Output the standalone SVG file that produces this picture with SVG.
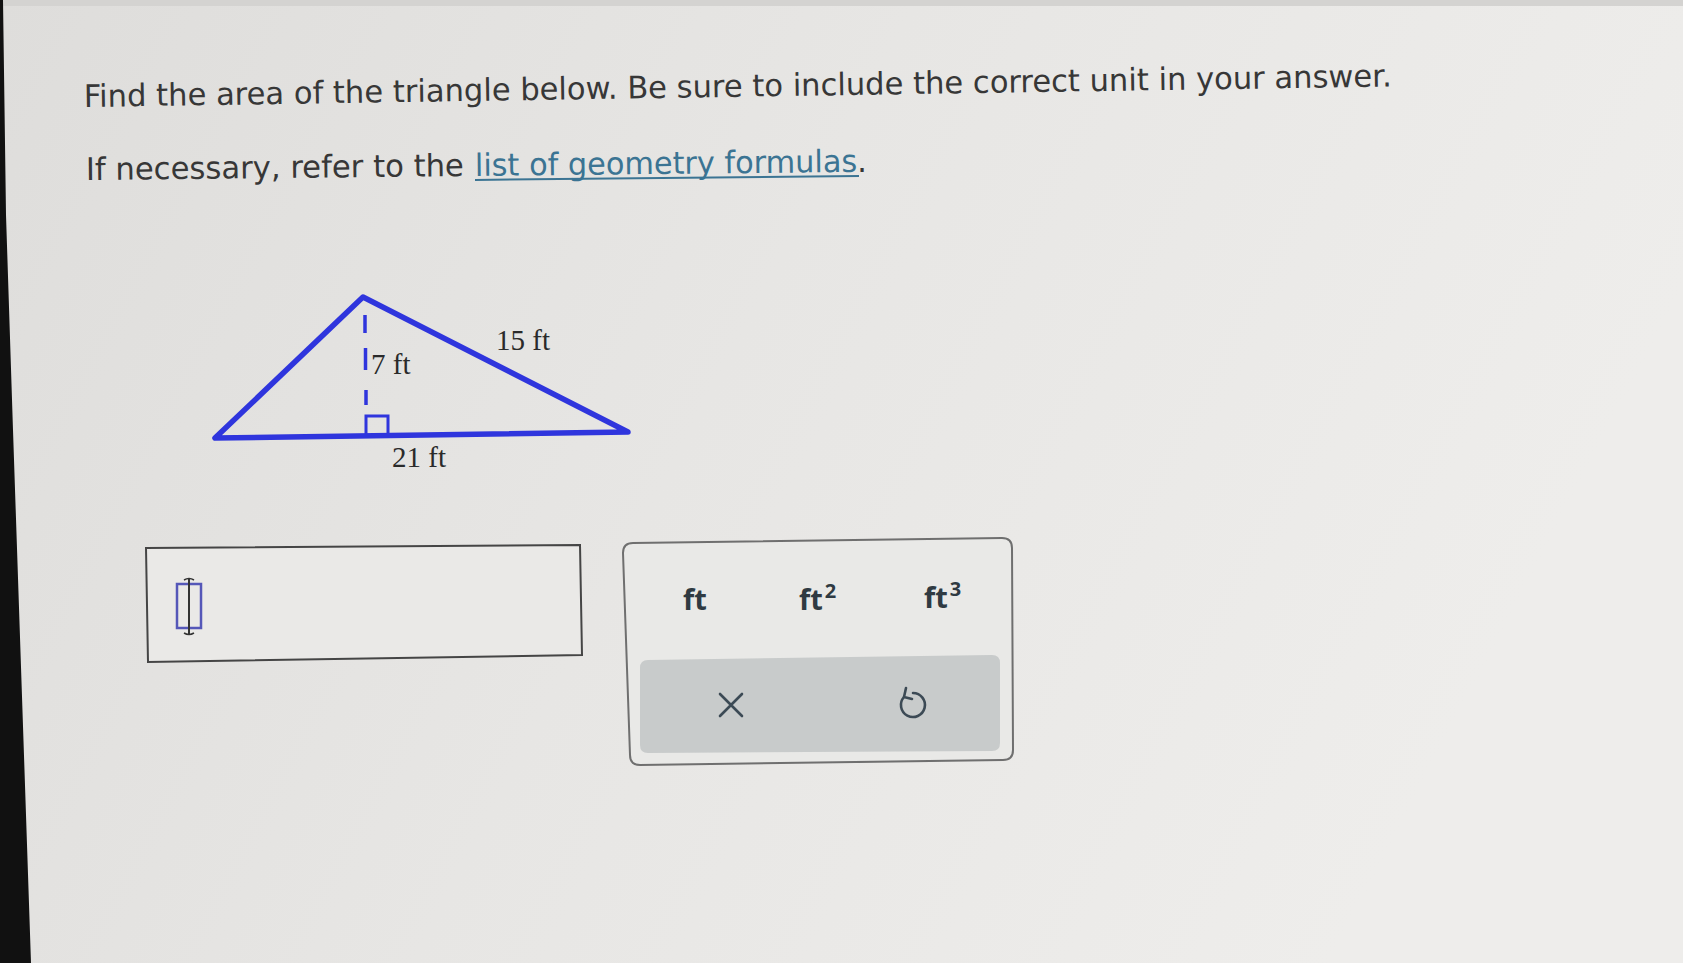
<svg xmlns="http://www.w3.org/2000/svg" width="1683" height="963" viewBox="0 0 1683 963">
<defs>
<linearGradient id="bg" x1="0" y1="0" x2="1" y2="0.3">
<stop offset="0" stop-color="#dedddb"/>
<stop offset="0.5" stop-color="#e7e6e4"/>
<stop offset="1" stop-color="#eeedeb"/>
</linearGradient>
<style>
.q{font-family:"DejaVu Sans","Liberation Sans",sans-serif;font-size:31px;fill:#373737}
.lnk{fill:#3b7493}
.lab{font-family:"Liberation Serif","Times New Roman",serif;font-size:29px;fill:#2a2a2a}
.unit{font-family:"Open Sans","Noto Sans",sans-serif;font-weight:700;font-size:29px;fill:#2f3a42}
.sup{font-size:20px}
.tri{fill:none;stroke:#2f35dd;stroke-width:5.5;stroke-linejoin:round}
.alt{stroke:#2f35dd;stroke-width:3.5}
.ico{fill:none;stroke:#3c4a55;stroke-width:2.6;stroke-linecap:round;stroke-linejoin:round}
</style>
</defs>
<rect width="1683" height="963" fill="url(#bg)"/>
<rect width="1683" height="6" fill="#d4d3d1"/>
<polygon points="0,0 3,0 6,215 13,430 31,963 0,963" fill="#111"/>

<g id="question">
<text class="q" x="84" y="107" textLength="1308" lengthAdjust="spacingAndGlyphs" transform="rotate(-0.9 84 107)">Find the area of the triangle below. Be sure to include the correct unit in your answer.</text>
<g transform="rotate(-0.6 86 180)">
<text class="q" x="86" y="180" textLength="378" lengthAdjust="spacingAndGlyphs">If necessary, refer to the</text>
<text class="q" x="475" y="180" textLength="392" lengthAdjust="spacingAndGlyphs"><tspan class="lnk">list of geometry formulas</tspan>.</text>
<line x1="475" y1="184" x2="859" y2="184" stroke="#3b7493" stroke-width="2"/>
</g>
</g>

<g id="triangle">
<polygon class="tri" points="363,297 215,438 628,432"/>
<line class="alt" x1="365" y1="315" x2="365" y2="333"/>
<line class="alt" x1="365.5" y1="348" x2="365.5" y2="370"/>
<line class="alt" x1="366" y1="390" x2="366" y2="405"/>
<path d="M366,434 V416 H388 V433" fill="none" stroke="#2f35dd" stroke-width="3"/>
<text class="lab" x="371" y="374">7  ft</text>
<text class="lab" x="496" y="350">15  ft</text>
<text class="lab" x="392" y="467">21  ft</text>
</g>

<g id="answer-box">
<polygon points="146,548 580,545 582,655 148,662" fill="#eae9e7" stroke="#454545" stroke-width="2"/>
<rect x="177" y="584" width="24" height="44" fill="none" stroke="#5557b8" stroke-width="2.5"/>
<line x1="189" y1="579" x2="189" y2="634" stroke="#333" stroke-width="2"/>
<path d="M184,580 Q189,577 194,580 M184,633 Q189,636 194,633" fill="none" stroke="#333" stroke-width="1.5"/>
</g>

<g id="unit-panel">
<path d="M633,543 L1002,538 Q1012,538 1012,548 L1013,750 Q1013,760 1003,760 L640,765 Q630,765 630,755 L623,553 Q623,543 633,543 Z" fill="#e9e9e7" stroke="#6f6f6f" stroke-width="2"/>
<text class="unit" x="683" y="610">ft</text>
<text class="unit" x="799" y="610">ft<tspan class="sup" dx="2" dy="-12">2</tspan></text>
<text class="unit" x="924" y="608">ft<tspan class="sup" dx="2" dy="-12">3</tspan></text>
<path d="M648,660 L992,655 Q1000,655 1000,663 L1000,743 Q1000,751 992,751 L648,753 Q640,753 640,745 L640,668 Q640,660 648,660 Z" fill="#c8cbcb"/>
<g id="clear-button">
<path class="ico" d="M720,694 L742,716 M742,694 L720,716"/>
</g>
<g id="undo-button">
<path class="ico" d="M904,697 A12,12 0 1 0 913,693"/>
<path class="ico" d="M906,688 L904,697 L912,699"/>
</g>
</g>
</svg>
